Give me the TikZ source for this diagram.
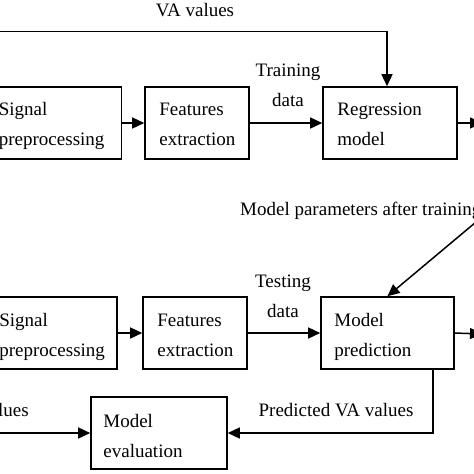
\documentclass[tikz,border=0pt]{standalone}
\usepackage{fontspec}
\setmainfont{Liberation Serif}
\usetikzlibrary{arrows.meta}
\newcommand{\twolnl}[2]{\begin{tabular}[t]{@{}l@{}}#1\\#2\end{tabular}}
\newcommand{\twolnc}[2]{\begin{tabular}[t]{@{}c@{}}#1\\#2\end{tabular}}
\tikzset{
  box/.style={draw, line width=1.6pt, minimum height=72pt, inner sep=0pt},
  txt/.style={inner sep=0pt, font=\fontsize{19}{30}\selectfont},
  arr/.style={line width=1.5pt, -{Triangle[length=12pt,width=11pt]}},
}
\begin{document}
\begin{tikzpicture}[x=1pt,y=-1pt]
\useasboundingbox (0,0) rectangle (474,474);
\fill[white] (0,0) rectangle (474,474);
\clip (0,0) rectangle (474,474);
% top row
\node[box, minimum width=137pt] (sp1) at (53,123) {};
\node[box, minimum width=104pt] (fe1) at (197,123) {};
\node[box, minimum width=134pt] (rm) at (390,123) {};
\node[txt, anchor=base west] (sp1t) at ([xshift=15pt,yshift=8pt]sp1.west) {\twolnl{Signal}{preprocessing}};
\node[txt, anchor=base west] (fe1t) at ([xshift=15pt,yshift=8pt]fe1.west) {\twolnl{Features}{extraction}};
\node[txt, anchor=base west] (rmt) at ([xshift=15pt,yshift=8pt]rm.west) {\twolnl{Regression}{model}};
\node[txt, anchor=base] (vat) at (195,16) {VA values};
\node[txt, anchor=base] (trn) at (288,76) {\twolnc{Training}{data}};
\coordinate (vaL) at (-5,31.5);
\coordinate (rmR) at (482,123);
\draw[arr] (sp1.east) -- (fe1.west);
\draw[arr] (fe1.east) -- (rm.west);
\draw[arr] (rm.east) -- (rmR);
\draw[arr] (vaL) -| ([xshift=-3pt]rm.north);
% bottom row
\node[box, minimum width=134pt] (sp2) at (50,333) {};
\node[box, minimum width=104pt] (fe2) at (195,333) {};
\node[box, minimum width=133pt] (mp) at (387.5,333) {};
\node[box, minimum width=136pt] (me) at (159,433) {};
\node[txt, anchor=base west] (sp2t) at ([xshift=17pt,yshift=7pt]sp2.west) {\twolnl{Signal}{preprocessing}};
\node[txt, anchor=base west] (fe2t) at ([xshift=15pt,yshift=7pt]fe2.west) {\twolnl{Features}{extraction}};
\node[txt, anchor=base west] (mpt) at ([xshift=14pt,yshift=7pt]mp.west) {\twolnl{Model}{prediction}};
\node[txt, anchor=base west] (met) at ([xshift=13pt,yshift=6pt]me.west) {\twolnl{Model}{evaluation}};
\node[txt, anchor=base west] (mpat) at (240,215) {Model parameters after training};
\node[txt, anchor=base] (tst) at (283,287) {\twolnc{Testing}{data}};
\node[txt, anchor=base] (pva) at (336,416) {Predicted VA values};
\node[txt, anchor=base east] (lva) at (29,416) {VA values};
\coordinate (mpR) at (482,334);
\coordinate (dgS) at (482,217);
\coordinate (evL) at (-5,433);
\draw[arr] (sp2.east) -- (fe2.west);
\draw[arr] (fe2.east) -- (mp.west);
\draw[arr] (mp.east) -- (mpR);
\draw[arr] (dgS) -- (mp.north);
\draw[arr] ([xshift=45.5pt]mp.south) |- (me.east);
\draw[arr] (evL) -- (me.west);
\end{tikzpicture}
\end{document}
